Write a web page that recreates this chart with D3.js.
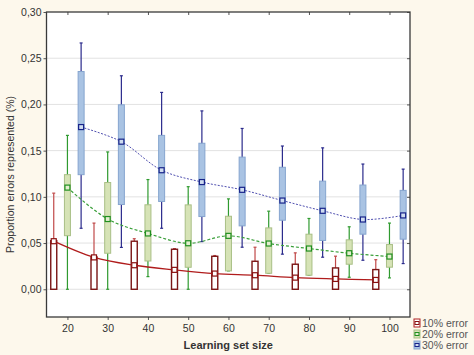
<!DOCTYPE html>
<html><head><meta charset="utf-8">
<script src="https://cdn.jsdelivr.net/npm/d3@7"></script>
<style>html,body{margin:0;padding:0;background:#fdf8ec;}svg{display:block;}</style>
</head><body>
<script>
const sizes = [20, 30, 40, 50, 60, 70, 80, 90, 100];
const yTicks = [0, 0.05, 0.10, 0.15, 0.20, 0.25, 0.30];
const seriesNames = ["10% error", "20% error", "30% error"];

const med10 = [0.052, 0.0345, 0.026, 0.021, 0.017, 0.0152, 0.0126, 0.0112, 0.0101];
const q1_10 = [0, 0, 0, 0, 0, 0, 0, 0, 0];
const q3_10 = [0.0525, 0.035, 0.052, 0.0433, 0.0357, 0.0303, 0.0271, 0.0231, 0.0213];
const lo10  = [0, 0, 0, 0, 0, 0, 0, 0, 0];
const hi10  = [0.104, 0.0716, 0.0547, 0.044, 0.0365, 0.0455, 0.0394, 0.0358, 0.032];

const med20 = [0.110, 0.076, 0.0604, 0.0498, 0.0578, 0.0495, 0.0441, 0.039, 0.0354];
const q1_20 = [0.058, 0.039, 0.0306, 0.0238, 0.0199, 0.0173, 0.0152, 0.0271, 0.0239];
const q3_20 = [0.124, 0.1155, 0.0914, 0.0913, 0.079, 0.0664, 0.0596, 0.0535, 0.0484];
const lo20  = [0, 0, 0.0137, 0, 0.0199, 0.0173, 0.0152, 0.013, 0.0123];
const hi20  = [0.1665, 0.1486, 0.1187, 0.111, 0.0978, 0.0845, 0.0766, 0.0676, 0.0716];

const med30 = [0.1755, 0.1597, 0.1288, 0.116, 0.1076, 0.096, 0.0849, 0.0755, 0.0799];
const q1_30 = [0.124, 0.0917, 0.095, 0.0787, 0.0686, 0.0747, 0.0528, 0.0596, 0.0542];
const q3_30 = [0.2356, 0.1996, 0.1665, 0.158, 0.143, 0.132, 0.117, 0.1128, 0.107];
const lo30  = [0.066, 0.0453, 0.066, 0.0516, 0.0455, 0.038, 0.0347, 0.0314, 0.0278];
const hi30  = [0.2665, 0.231, 0.213, 0.193, 0.174, 0.155, 0.153, 0.1355, 0.130];

const W = 474, H = 355;
const L = 46.5, R = 410, T = 12, B = 317;

const styles = [
  {off: -3.4, boxFill: "#ffffff", boxStroke: "#7a1414", boxSW: 1.4, whisk: "#c04848", mk: "#8a1010", mkFill: "#ffffff", line: "#b01c1c", dash: null, lw: 1.3},
  {off: 0, boxFill: "#d6e3b6", boxStroke: "#a9bf86", boxSW: 1, whisk: "#2f9a2f", mk: "#1f8f1f", mkFill: "#e4eecf", line: "#3a9f3a", dash: "3,2", lw: 1.2},
  {off: 3.4, boxFill: "#a9c3e3", boxStroke: "#86a5cf", boxSW: 1, whisk: "#2b2b8c", mk: "#17238a", mkFill: "#cfdcf0", line: "#5050b0", dash: "2,1.5", lw: 1}
];
const data = [
  {med: med10, q1: q1_10, q3: q3_10, lo: lo10, hi: hi10},
  {med: med20, q1: q1_20, q3: q3_20, lo: lo20, hi: hi20},
  {med: med30, q1: q1_30, q3: q3_30, lo: lo30, hi: hi30}
];

const svg = d3.select("body").append("svg").attr("width", W).attr("height", H);
svg.append("rect").attr("width", W).attr("height", H).attr("fill", "#fdf8ec");

const x = d3.scaleLinear().domain([14.8, 105.1]).range([L, R]);
const y = d3.scaleLinear().domain([-0.03, 0.30]).range([B, T]);

svg.append("rect").attr("x", L).attr("y", T).attr("width", R - L).attr("height", B - T).attr("fill", "#ffffff");

svg.append("g").selectAll("line").data(yTicks.slice(0, -1)).join("line")
  .attr("x1", L).attr("x2", R).attr("y1", d => y(d)).attr("y2", d => y(d))
  .attr("stroke", "#e2e2e2").attr("stroke-width", 1);

const fmt = d => d3.format(".2f")(d).replace(".", ",");

const gL = svg.append("g").attr("transform", `translate(${L},0)`)
  .call(d3.axisLeft(y).tickValues(yTicks).tickFormat(fmt).tickSize(3).tickPadding(2));
const gB = svg.append("g").attr("transform", `translate(0,${B})`)
  .call(d3.axisBottom(x).tickValues(sizes).tickFormat(d3.format("d")).tickSize(3).tickPadding(5));
const gT = svg.append("g").attr("transform", `translate(0,${T})`)
  .call(d3.axisBottom(x).tickValues(sizes).tickFormat("").tickSize(3));
const gR = svg.append("g").attr("transform", `translate(${R},0)`)
  .call(d3.axisLeft(y).tickValues(yTicks).tickFormat("").tickSize(3));
[gL, gB, gT, gR].forEach(g => {
  g.select(".domain").remove();
  g.selectAll("line").attr("stroke", "#555");
  g.selectAll("text").attr("fill", "#333").style("font-family", "Arial, 'Liberation Sans', sans-serif").style("font-size", "10.5px");
});
svg.append("rect").attr("x", L).attr("y", T).attr("width", R - L).attr("height", B - T)
  .attr("fill", "none").attr("stroke", "#3a3a3a").attr("stroke-width", 1.3);

const bw = 6;
data.forEach((s, si) => {
  const st = styles[si];
  const g = svg.append("g");
  const idx = d3.range(sizes.length);
  const cx = i => x(sizes[i] + st.off);
  g.selectAll(".w").data(idx).join("line")
    .attr("x1", cx).attr("x2", cx).attr("y1", i => y(s.lo[i])).attr("y2", i => y(s.hi[i]))
    .attr("stroke", st.whisk).attr("stroke-width", 1.2);
  g.selectAll(".cap1").data(idx).join("line")
    .attr("x1", i => cx(i) - 1.5).attr("x2", i => cx(i) + 1.5)
    .attr("y1", i => y(s.hi[i])).attr("y2", i => y(s.hi[i]))
    .attr("stroke", st.whisk).attr("stroke-width", 1.2);
  g.selectAll(".cap2").data(idx).join("line")
    .attr("x1", i => cx(i) - 1.5).attr("x2", i => cx(i) + 1.5)
    .attr("y1", i => y(s.lo[i])).attr("y2", i => y(s.lo[i]))
    .attr("stroke", st.whisk).attr("stroke-width", 1.2);
  g.selectAll(".b").data(idx).join("rect")
    .attr("x", i => cx(i) - bw / 2).attr("width", bw)
    .attr("y", i => y(s.q3[i])).attr("height", i => y(s.q1[i]) - y(s.q3[i]))
    .attr("fill", st.boxFill).attr("stroke", st.boxStroke).attr("stroke-width", st.boxSW);
});

data.forEach((s, si) => {
  const st = styles[si];
  const line = d3.line().x((d, i) => x(sizes[i] + st.off)).y(d => y(d)).curve(d3.curveCatmullRom.alpha(0.5));
  const p = svg.append("path").datum(s.med).attr("d", line)
    .attr("fill", "none").attr("stroke", st.line).attr("stroke-width", st.lw);
  if (st.dash) p.attr("stroke-dasharray", st.dash);
});

data.forEach((s, si) => {
  const st = styles[si];
  svg.append("g").selectAll("rect").data(s.med).join("rect")
    .attr("x", (d, i) => x(sizes[i] + st.off) - 2.5).attr("y", d => y(d) - 2.5)
    .attr("width", 5).attr("height", 5)
    .attr("fill", st.mkFill).attr("stroke", st.mk).attr("stroke-width", 1.2);
});

svg.append("text").attr("x", (L + R) / 2).attr("y", 349).attr("text-anchor", "middle")
  .style("font-family", "Arial, 'Liberation Sans', sans-serif").style("font-size", "11px").style("font-weight", "bold")
  .attr("fill", "#333").text("Learning set size");
svg.append("text").attr("transform", `translate(14,${(T + B) / 2 + 10}) rotate(-90)`).attr("text-anchor", "middle")
  .style("font-family", "Arial, 'Liberation Sans', sans-serif").style("font-size", "10.5px")
  .attr("fill", "#333").text("Proportion errors represented (%)");

const lg = svg.append("g");
seriesNames.forEach((name, i) => {
  const st = styles[i];
  const yy = 323 + i * 11;
  lg.append("rect").attr("x", 414).attr("y", yy - 4).attr("width", 6).attr("height", 8)
    .attr("fill", st.boxFill).attr("stroke", i === 0 ? "#b02020" : st.boxStroke).attr("stroke-width", 1);
  lg.append("rect").attr("x", 415).attr("y", yy - 1.5).attr("width", 4).attr("height", 3)
    .attr("fill", st.mkFill).attr("stroke", st.mk).attr("stroke-width", 1);
  lg.append("text").attr("x", 422).attr("y", yy + 4)
    .style("font-family", "Arial, 'Liberation Sans', sans-serif").style("font-size", "10.5px")
    .attr("fill", "#555").text(name);
});
</script>
</body></html>
